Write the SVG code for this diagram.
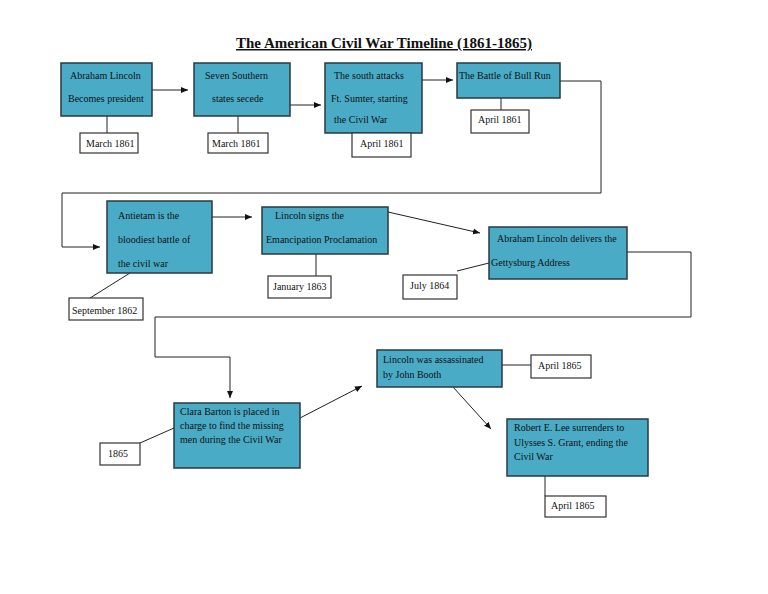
<svg xmlns="http://www.w3.org/2000/svg" width="768" height="594" viewBox="0 0 768 594">
<style>
.n{fill:#4aabc6;stroke:#2a3a40;stroke-width:1.5}
.d{fill:#fff;stroke:#333;stroke-width:1.2}
text{font-family:"Liberation Serif",serif;font-size:10px;fill:#111}
.c{stroke:#222;stroke-width:1;fill:none}
</style>
<defs><marker id="a" markerWidth="8" markerHeight="8" refX="7" refY="4" orient="auto" markerUnits="userSpaceOnUse"><path d="M0,1 L7,4 L0,7z" fill="#111"/></marker></defs>
<rect width="768" height="594" fill="#fff"/>
<text x="384" y="48" text-anchor="middle" style="font-size:15px;font-weight:bold;text-decoration:underline">The American Civil War Timeline (1861-1865)</text>
<g id="connectors">
<path class="c" d="M152,90H188" marker-end="url(#a)"/>
<path class="c" d="M290,105H321" marker-end="url(#a)"/>
<path class="c" d="M422,80H453" marker-end="url(#a)"/>
<path class="c" d="M560,81H601V193H62V247H100" marker-end="url(#a)"/>
<path class="c" d="M212,217H252" marker-end="url(#a)"/>
<path class="c" d="M388,212L480,233" marker-end="url(#a)"/>
<path class="c" d="M627,252H691V317H155V357H230V398" marker-end="url(#a)"/>
<path class="c" d="M300,418L362,386" marker-end="url(#a)"/>
<path class="c" d="M453,387L491,429" marker-end="url(#a)"/>
<path class="c" d="M107,116V133M238,116V133M353,127V133M501,98V110M130,273L90,298M316,254V276M457,271L489,263M140,443L174,428M502,365H531M545,476V496"/>
</g>
<g id="n1"><rect class="n" x="61" y="63" width="91" height="53"/><text x="70" y="79">Abraham Lincoln</text><text x="68" y="102">Becomes president</text></g>
<g id="n2"><rect class="n" x="194" y="63" width="96" height="53"/><text x="205" y="79">Seven Southern</text><text x="212" y="102">states secede</text></g>
<g id="n3"><rect class="n" x="325" y="63" width="97" height="70"/><text x="334" y="79">The south attacks</text><text x="331" y="102">Ft. Sumter, starting</text><text x="334" y="123">the Civil War</text></g>
<g id="n4"><rect class="n" x="457" y="63" width="103" height="35"/><text x="459" y="79">The Battle of Bull Run</text></g>
<g id="d1"><rect class="d" x="80" y="133" width="58" height="20"/><text x="86" y="147">March 1861</text></g>
<g id="d2"><rect class="d" x="208" y="133" width="60" height="20"/><text x="212" y="147">March 1861</text></g>
<g id="d3"><rect class="d" x="352" y="133" width="59" height="24"/><text x="360" y="147">April 1861</text></g>
<g id="d4"><rect class="d" x="471" y="110" width="58" height="23"/><text x="478" y="123">April 1861</text></g>
<g id="n5"><rect class="n" x="107" y="201" width="105" height="72"/><text x="118" y="219">Antietam is the</text><text x="118" y="243">bloodiest battle of</text><text x="118" y="267">the civil war</text></g>
<g id="n6"><rect class="n" x="262" y="207" width="126" height="47"/><text x="275" y="219">Lincoln signs the</text><text x="266" y="243">Emancipation Proclamation</text></g>
<g id="n7"><rect class="n" x="489" y="227" width="138" height="52"/><text x="497" y="242">Abraham Lincoln delivers the</text><text x="491" y="266">Gettysburg Address</text></g>
<g id="d5"><rect class="d" x="69" y="298" width="74" height="22"/><text x="72" y="314">September 1862</text></g>
<g id="d6"><rect class="d" x="268" y="276" width="63" height="22"/><text x="273" y="290">January 1863</text></g>
<g id="d7"><rect class="d" x="403" y="275" width="54" height="24"/><text x="410" y="289">July 1864</text></g>
<g id="n8"><rect class="n" x="174" y="403" width="126" height="65"/><text x="180" y="415">Clara Barton is placed in</text><text x="180" y="429">charge to find the missing</text><text x="180" y="443">men during the Civil War</text></g>
<g id="d8"><rect class="d" x="100" y="443" width="40" height="22"/><text x="108" y="457">1865</text></g>
<g id="n9"><rect class="n" x="377" y="350" width="125" height="37"/><text x="383" y="363">Lincoln was assassinated</text><text x="383" y="378">by John Booth</text></g>
<g id="d9"><rect class="d" x="531" y="355" width="60" height="23"/><text x="538" y="369">April 1865</text></g>
<g id="n10"><rect class="n" x="507" y="419" width="141" height="57"/><text x="514" y="431">Robert E. Lee surrenders to</text><text x="514" y="446">Ulysses S. Grant, ending the</text><text x="514" y="460">Civil War</text></g>
<g id="d10"><rect class="d" x="545" y="496" width="61" height="21"/><text x="551" y="509">April 1865</text></g>
</svg>
